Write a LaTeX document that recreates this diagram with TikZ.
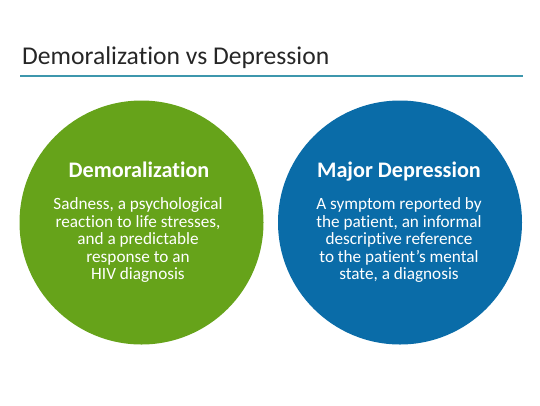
\documentclass[tikz,border=0pt]{standalone}
\usepackage{fontspec}
\setmainfont{Carlito}[Ligatures=NoCommon]
\definecolor{dgreen}{HTML}{66A31A}
\definecolor{dblue}{HTML}{0A6CA8}
\definecolor{rule}{HTML}{3E97AD}
\definecolor{titlec}{HTML}{262626}
\begin{document}
\begin{tikzpicture}[x=1pt,y=-1pt,
  disc/.style={circle,minimum size=244pt,inner sep=0pt},
  head/.style={text=white,font=\fontsize{22.2}{26}\selectfont\bfseries,anchor=base},
  body/.style={text=white,font=\fontsize{17.2}{17.6}\selectfont,align=center,anchor=base}]
\useasboundingbox (0,0) rectangle (540,405);
\node[text=titlec,font=\fontsize{25.6}{30}\selectfont,anchor=base west,inner sep=0pt] (title) at (22,64) {Demoralization vs Depression};
\coordinate (l1) at (20,76);
\coordinate (l2) at (523,76);
\draw[rule,line width=1.2pt] (l1) -- (l2);
\node[disc,fill=dgreen] (c1) at (141.5,222.5) {};
\node[disc,fill=dblue] (c2) at (400,222.5) {};
\node[head] (h1) at (139,177.7) {Demoralization};
\node[head] (h2) at (399,177.7) {Major Depression};
\node[body,anchor=north] (b1) at (138,194) {Sadness, a psychological\\reaction to life stresses,\\and a predictable\\response to an\\HIV diagnosis};
\node[body,anchor=north] (b2) at (399,194) {A symptom reported by\\the patient, an informal\\descriptive reference\\to the patient’s mental\\state, a diagnosis};
\end{tikzpicture}
\end{document}
